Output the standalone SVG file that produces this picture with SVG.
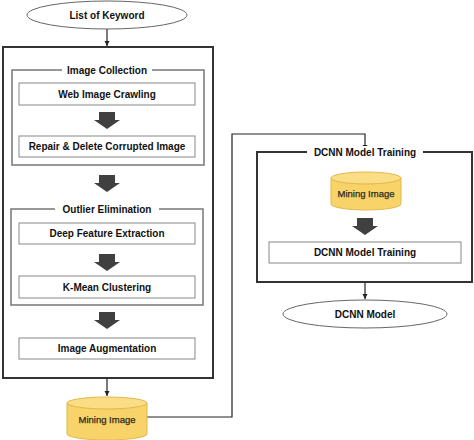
<svg xmlns="http://www.w3.org/2000/svg" width="474" height="440" viewBox="0 0 474 440">
<defs>
<style>
.outer{fill:#fff;stroke:#333;stroke-width:2}
.sect{fill:#fff;stroke:#777;stroke-width:1.5}
.proc{fill:#fff;stroke:#888;stroke-width:1}
.ell{fill:#fff;stroke:#666;stroke-width:1}
.t{font-family:"Liberation Sans",Arial,sans-serif;font-weight:bold;font-size:10px;fill:#111;text-anchor:middle}
.tm{font-family:"Liberation Sans",Arial,sans-serif;font-size:9.5px;fill:#2a2a1a;stroke:#2a2a1a;stroke-width:0.25;text-anchor:middle}
.cyl{fill:#F8D36A;stroke:#E2B849;stroke-width:1}
.cyltop{fill:#FADD85;stroke:#E2B849;stroke-width:1}
.blk{fill:#404040}
.con{fill:none;stroke:#222;stroke-width:1.2}
.lblbg{fill:#fff}
</style>
<marker id="ah" markerWidth="6" markerHeight="6" refX="5" refY="3" orient="auto" markerUnits="userSpaceOnUse">
<path d="M0,0.5 L5,3 L0,5.5 Z" fill="#222"/>
</marker>
<path id="barrow" d="M-8,0 H8 V8 H13 L0,17 L-13,8 H-8 Z"/>
</defs>

<g id="connectors">
<line class="con" x1="107" y1="29" x2="107" y2="46" marker-end="url(#ah)"/>
<line class="con" x1="107" y1="379" x2="107" y2="396" marker-end="url(#ah)"/>
<polyline class="con" points="147,417 232,417 232,134 365,134 365,150" marker-end="url(#ah)"/>
<line class="con" x1="365" y1="283" x2="365" y2="299" marker-end="url(#ah)"/>
</g>

<g id="list-of-keyword">
<ellipse class="ell" cx="107" cy="15" rx="80" ry="14"/>
<text class="t" x="107" y="19">List of Keyword</text>
</g>

<g id="preprocessing">
<rect class="outer" x="3" y="47" width="210" height="331"/>
</g>

<g id="image-collection">
<rect class="sect" x="12" y="70" width="192" height="95"/>
<rect class="lblbg" x="62" y="64" width="90" height="12"/>
<text class="t" x="107" y="74">Image Collection</text>
</g>

<g id="web-image-crawling">
<rect class="proc" x="19" y="83" width="176" height="22"/>
<text class="t" x="107" y="98">Web Image Crawling</text>
</g>

<g id="arrow1"><use href="#barrow" class="blk" x="107" y="112"/></g>

<g id="repair-delete">
<rect class="proc" x="19" y="136" width="176" height="21"/>
<text class="t" x="107" y="150">Repair &amp; Delete Corrupted Image</text>
</g>

<g id="arrow2"><use href="#barrow" class="blk" x="107" y="175"/></g>

<g id="outlier-elimination">
<rect class="sect" x="11" y="209" width="192" height="96"/>
<rect class="lblbg" x="55" y="203" width="104" height="12"/>
<text class="t" x="107" y="213">Outlier Elimination</text>
</g>

<g id="deep-feature-extraction">
<rect class="proc" x="19" y="223" width="176" height="21"/>
<text class="t" x="107" y="237">Deep Feature Extraction</text>
</g>

<g id="arrow3"><use href="#barrow" class="blk" x="107" y="254"/></g>

<g id="k-mean-clustering">
<rect class="proc" x="19" y="276" width="176" height="22"/>
<text class="t" x="107" y="291">K-Mean Clustering</text>
</g>

<g id="arrow4"><use href="#barrow" class="blk" x="107" y="312"/></g>

<g id="image-augmentation">
<rect class="proc" x="19" y="338" width="176" height="21"/>
<text class="t" x="107" y="352">Image Augmentation</text>
</g>

<g id="mining-image-1">
<path class="cyl" d="M67,403 V434 A40,6 0 0 0 147,434 V403 Z"/>
<ellipse class="cyltop" cx="107" cy="403" rx="40" ry="6"/>
<text class="tm" x="107" y="423">Mining Image</text>
</g>

<g id="dcnn-training-section">
<rect class="outer" x="257" y="152" width="215" height="130"/>
<rect class="lblbg" x="307" y="146" width="116" height="12"/>
<text class="t" x="365" y="156">DCNN Model Training</text>
</g>

<g id="mining-image-2">
<path class="cyl" d="M331,178 V204 A35,6 0 0 0 401,204 V178 Z"/>
<ellipse class="cyltop" cx="366" cy="178" rx="35" ry="6"/>
<text class="tm" x="366" y="197">Mining Image</text>
</g>

<g id="arrow5"><use href="#barrow" class="blk" x="365" y="218"/></g>

<g id="dcnn-model-training">
<rect class="proc" x="269" y="242" width="192" height="21"/>
<text class="t" x="365" y="256">DCNN Model Training</text>
</g>

<g id="dcnn-model">
<ellipse class="ell" cx="365" cy="314" rx="82" ry="14"/>
<text class="t" x="365" y="318">DCNN Model</text>
</g>
</svg>
